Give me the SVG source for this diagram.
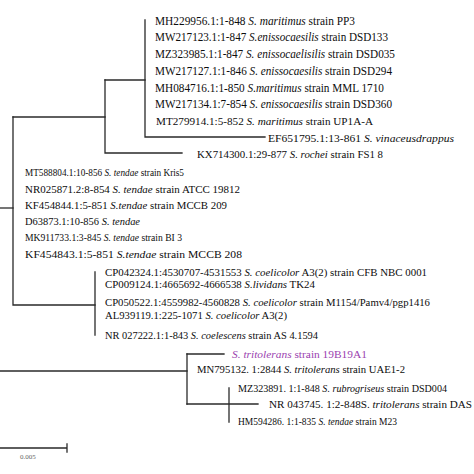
<svg xmlns="http://www.w3.org/2000/svg" width="474" height="474" viewBox="0 0 474 474">
<style>
.bg{fill:#fff}
.ln{stroke:#2a2a2a;stroke-width:1.3;fill:none;stroke-linecap:square}
text{font-family:"Liberation Serif","DejaVu Serif",serif;fill:#0d0d0d;dominant-baseline:central}
.a{font-size:12px}
.b{font-size:10.8px}
.c{font-size:10.6px}
.i{font-style:italic}
.p{fill:#9b3fb0}
.s{font-size:7px;fill:#666}
</style>
<rect class="bg" x="0" y="0" width="474" height="474"/>
<g id="connectors">
<path class="ln" d="M145,20 V137 H265"/>
<path class="ln" d="M105,80 H145"/>
<path class="ln" d="M105,80 V153 H182"/>
<path class="ln" d="M13,117 H105"/>
<path class="ln" d="M13,117 V305 H95"/>
<path class="ln" d="M95,272 V335"/>
<path class="ln" d="M0,208 H13"/>
<path class="ln" d="M0,371 H187"/>
<path class="ln" d="M187,354 V404"/>
<path class="ln" d="M187,354 H224"/>
<path class="ln" d="M187,404 H258"/>
<path class="ln" d="M229,388 V422"/>
<path class="ln" d="M0,448 H67 M67,444 V452"/>
</g>
<g id="n1"><text class="a" x="155" y="21" textLength="200" lengthAdjust="spacingAndGlyphs">MH229956.1:1-848 <tspan class="i">S. maritimus</tspan> strain PP3</text></g>
<g id="n2"><text class="a" x="155" y="37" textLength="233" lengthAdjust="spacingAndGlyphs">MW217123.1:1-847 <tspan class="i">S.enissocaesilis</tspan> strain DSD133</text></g>
<g id="n3"><text class="a" x="155" y="54" textLength="240" lengthAdjust="spacingAndGlyphs">MZ323985.1:1-847 <tspan class="i">S. enissocaelisilis</tspan> strain DSD035</text></g>
<g id="n4"><text class="a" x="155" y="71" textLength="237" lengthAdjust="spacingAndGlyphs">MW217127.1:1-846 <tspan class="i">S. enissocaesilis</tspan> strain DSD294</text></g>
<g id="n5"><text x="155" y="88" font-size="11.5" textLength="229" lengthAdjust="spacingAndGlyphs">MH084716.1:1-850 <tspan class="i">S.maritimus</tspan> strain MML 1710</text></g>
<g id="n6"><text class="a" x="155" y="104" textLength="237" lengthAdjust="spacingAndGlyphs">MW217134.1:7-854 <tspan class="i">S. enissocaesilis</tspan> strain DSD360</text></g>
<g id="n7"><text x="156" y="121" font-size="11.3" textLength="217" lengthAdjust="spacingAndGlyphs">MT279914.1:5-852 <tspan class="i">S. maritimus</tspan> strain UP1A-A</text></g>
<g id="n8"><text class="b" x="268" y="138" textLength="186" lengthAdjust="spacingAndGlyphs">EF651795.1:13-861 <tspan class="i">S. vinaceusdrappus</tspan></text></g>
<g id="n9"><text class="b" x="197" y="154" textLength="186" lengthAdjust="spacingAndGlyphs">KX714300.1:29-877 <tspan class="i">S. rochei</tspan> strain FS1 8</text></g>
<g id="n10"><text x="25" y="173" font-size="9.4" textLength="159" lengthAdjust="spacingAndGlyphs">MT588804.1:10-856 <tspan class="i">S. tendae</tspan> strain Kris5</text></g>
<g id="n11"><text class="b" x="25" y="189" textLength="215" lengthAdjust="spacingAndGlyphs">NR025871.2:8-854 <tspan class="i">S. tendae</tspan> strain ATCC 19812</text></g>
<g id="n12"><text class="b" x="25" y="205" textLength="202" lengthAdjust="spacingAndGlyphs">KF454844.1:5-851 <tspan class="i">S.tendae</tspan> strain MCCB 209</text></g>
<g id="n13"><text class="b" x="25" y="221" textLength="115" lengthAdjust="spacingAndGlyphs">D63873.1:10-856 <tspan class="i">S. tendae</tspan></text></g>
<g id="n14"><text x="25" y="237" font-size="9.8" textLength="157" lengthAdjust="spacingAndGlyphs">MK911733.1:3-845 <tspan class="i">S. tendae</tspan> strain BI 3</text></g>
<g id="n15"><text class="b" x="25" y="254" textLength="217" lengthAdjust="spacingAndGlyphs">KF454843.1:5-851 <tspan class="i">S.tendae</tspan> strain MCCB 208</text></g>
<g id="n16"><text class="b" x="105" y="272" textLength="322" lengthAdjust="spacingAndGlyphs">CP042324.1:4530707-4531553 <tspan class="i">S. coelicolor</tspan> A3(2) strain CFB NBC 0001</text></g>
<g id="n17"><text class="b" x="105" y="284" textLength="210" lengthAdjust="spacingAndGlyphs">CP009124.1:4665692-4666538 <tspan class="i">S.lividans</tspan> TK24</text></g>
<g id="n18"><text class="b" x="105" y="302" textLength="325" lengthAdjust="spacingAndGlyphs">CP050522.1:4559982-4560828 <tspan class="i">S. coelicolor</tspan> strain M1154/Pamv4/pgp1416</text></g>
<g id="n19"><text class="b" x="105" y="315" textLength="182" lengthAdjust="spacingAndGlyphs">AL939119.1:225-1071 <tspan class="i">S. coelicolor</tspan> A3(2)</text></g>
<g id="n20"><text class="b" x="105" y="335" textLength="213" lengthAdjust="spacingAndGlyphs">NR 027222.1:1-843 <tspan class="i">S. coelescens</tspan> strain AS 4.1594</text></g>
<g id="n21"><text class="b p" x="232" y="354" textLength="135" lengthAdjust="spacingAndGlyphs"><tspan class="i">S. tritolerans</tspan> strain 19B19A1</text></g>
<g id="n22"><text class="c" x="197" y="369" textLength="208" lengthAdjust="spacingAndGlyphs">MN795132. 1:2844 <tspan class="i">S. tritolerans</tspan> strain UAE1-2</text></g>
<g id="n23"><text x="238" y="388" font-size="10.2" textLength="209" lengthAdjust="spacingAndGlyphs">MZ323891. 1:1-848 <tspan class="i">S. rubrogriseus</tspan> strain DSD004</text></g>
<g id="n24"><text class="c" x="269" y="404" textLength="203" lengthAdjust="spacingAndGlyphs">NR 043745. 1:2-848S. <tspan class="i">tritolerans</tspan> strain DAS</text></g>
<g id="n25"><text x="238" y="421" font-size="9.6" textLength="159" lengthAdjust="spacingAndGlyphs">HM594286. 1:1-835 <tspan class="i">S. tendae</tspan> strain M23</text></g>
<g id="scale"><text class="s" x="20" y="457">0.005</text></g>
</svg>
